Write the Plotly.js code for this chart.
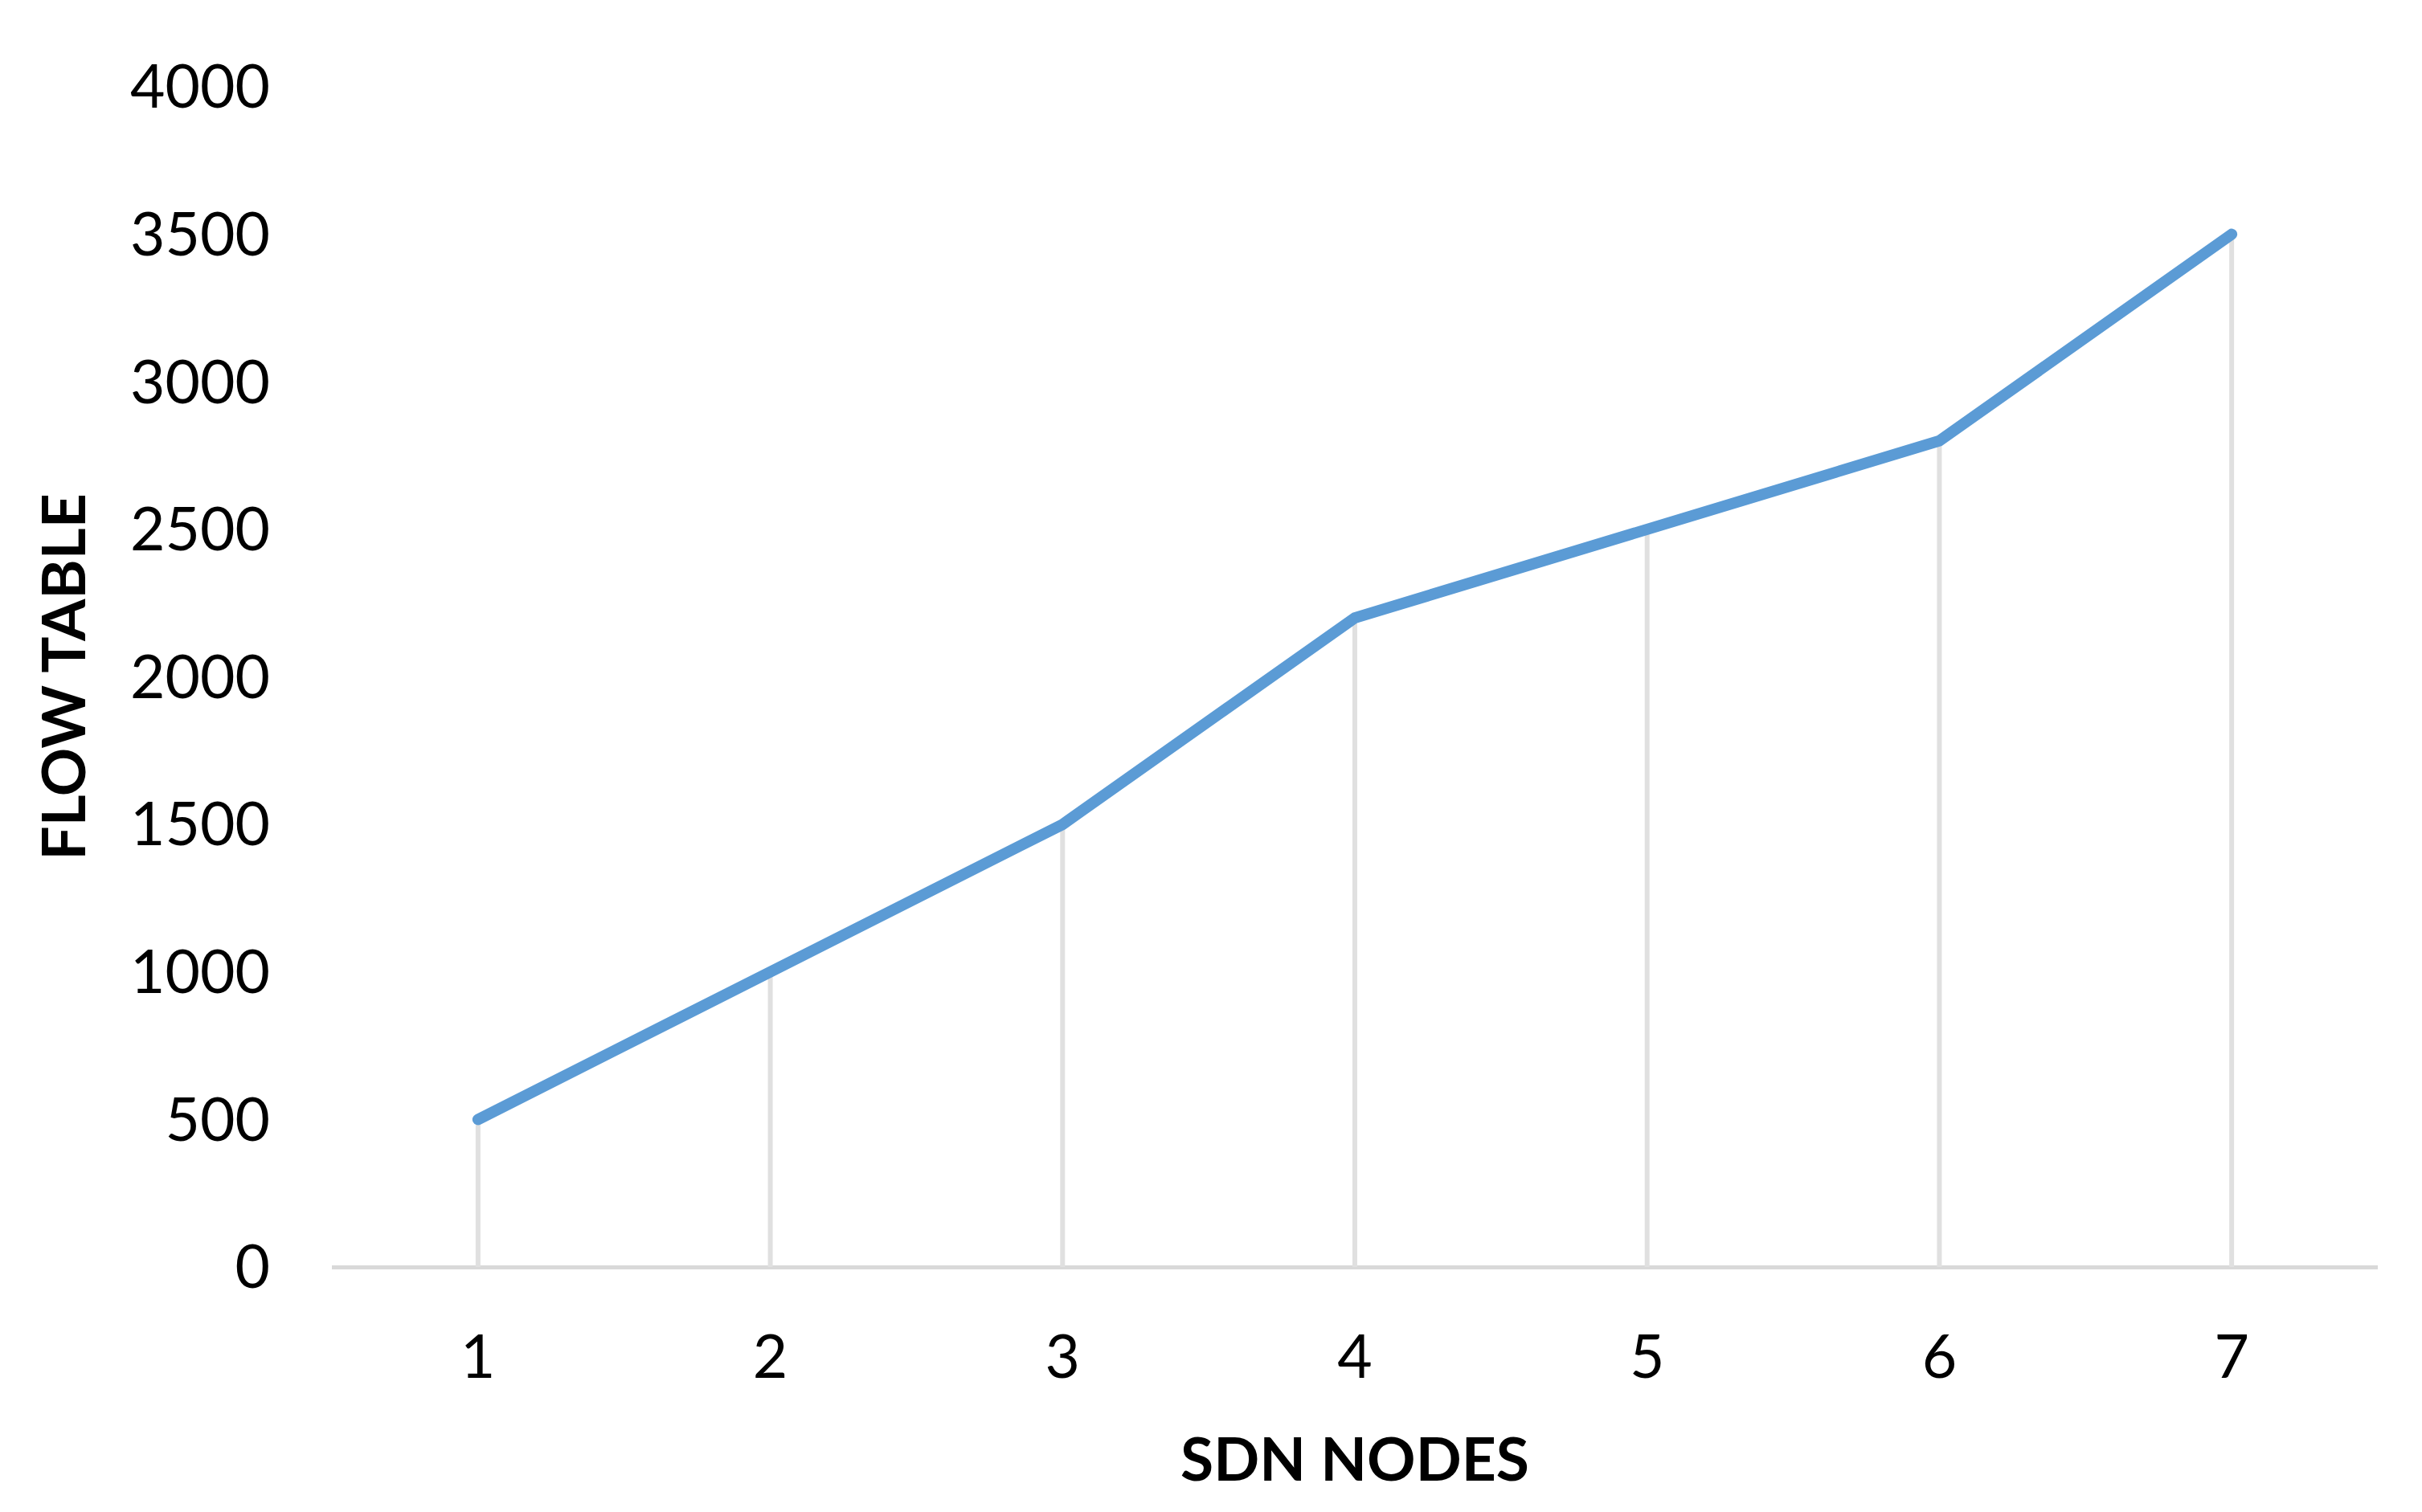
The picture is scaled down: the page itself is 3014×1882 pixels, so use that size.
<!DOCTYPE html>
<html>
<head>
<meta charset="utf-8">
<script src="https://cdn.plot.ly/plotly-3.0.1.min.js"></script>
<style>html,body{margin:0;padding:0;background:#fff;} .scatterlayer .js-line{stroke-linecap:round;}</style>
</head>
<body>
<div id="chart" style="width:3014px;height:1882px;"></div>
<script>
const nodes = ['1', '2', '3', '4', '5', '6', '7'];
const flowTable = [500, 1000, 1500, 2200, 2500, 2800, 3500];
const yTicks = [0, 500, 1000, 1500, 2000, 2500, 3000, 3500, 4000];
const xTitle = 'SDN NODES';
const yTitle = 'FLOW TABLE';

const dropLines = {
  x: nodes,
  y: flowTable,
  type: 'scatter',
  mode: 'markers',
  marker: {size: 1, color: 'rgba(0,0,0,0)'},
  error_y: {
    type: 'data',
    symmetric: false,
    array: flowTable.map(() => 0),
    arrayminus: flowTable,
    width: 0,
    thickness: 6,
    color: '#e0e0e0'
  },
  hoverinfo: 'skip',
  showlegend: false
};

const line = {
  x: nodes,
  y: flowTable,
  type: 'scatter',
  mode: 'lines',
  line: {color: '#5b9bd5', width: 14},
  showlegend: false
};

const layout = {
  width: 3014,
  height: 1882,
  paper_bgcolor: '#ffffff',
  plot_bgcolor: '#ffffff',
  margin: {l: 413, r: 55, t: 108, b: 305, pad: 0},
  font: {family: 'Lato, "Open Sans", sans-serif', color: '#000000'},
  showlegend: false,
  xaxis: {
    type: 'category',
    range: [-0.5, 6.5],
    showgrid: false,
    showline: false,
    zeroline: false,
    ticks: '',
    tickfont: {size: 75, family: 'Lato', color: '#000'},
    ticklabelstandoff: 62,
    title: {text: xTitle, font: {size: 75, family: 'Lato', weight: 'bold', color: '#000'}, standoff: 60}
  },
  yaxis: {
    range: [0, 4000],
    tickvals: yTicks,
    ticktext: yTicks.map(String),
    showgrid: false,
    showline: false,
    zeroline: true,
    zerolinecolor: '#d9d9d9',
    zerolinewidth: 5,
    ticks: '',
    tickfont: {size: 75, family: 'Lato', color: '#000'},
    ticklabelstandoff: 76,
    title: {text: yTitle, font: {size: 75, family: 'Lato', weight: 'bold', color: '#000'}, standoff: 30}
  }
};

Plotly.newPlot('chart', [dropLines, line], layout, {displayModeBar: false, staticPlot: true});
</script>
</body>
</html>
